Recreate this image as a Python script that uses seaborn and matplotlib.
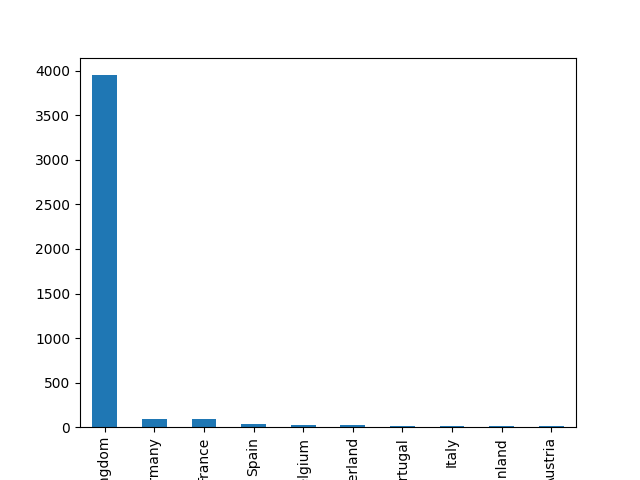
import matplotlib
matplotlib.use("Agg")
import matplotlib.pyplot as plt
import seaborn as sns

countries = ["United Kingdom", "Germany", "France", "Spain", "Belgium",
             "Switzerland", "Portugal", "Italy", "Finland", "Austria"]
counts = [3950, 95, 87, 31, 25, 21, 19, 15, 12, 11]

fig, ax = plt.subplots(figsize=(6.4, 4.8), dpi=100)
sns.barplot(x=countries, y=counts, ax=ax, color="#1f77b4", saturation=1, width=0.5)
ax.set_xlim(-0.5, len(countries) - 0.5)
ax.tick_params(axis="x", rotation=90)
ax.set_xlabel("")
ax.set_ylabel("")
fig.savefig("out.png", dpi=100)
